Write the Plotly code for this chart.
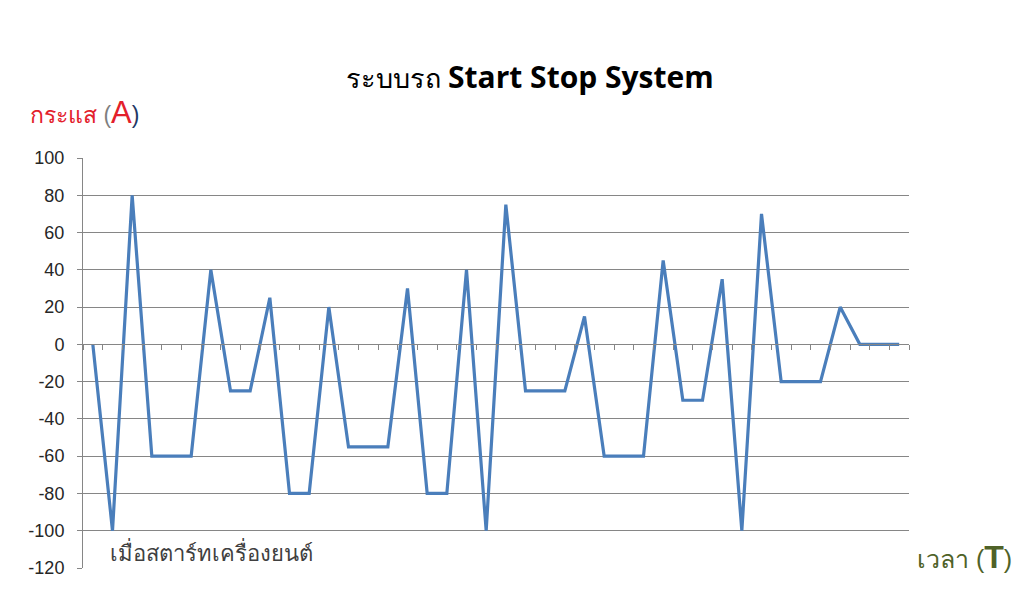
import plotly.graph_objects as go

# ค่ากระแสที่อ่านจากกราฟ (แอมแปร์) ตามลำดับเวลา
time_steps = list(range(42))
current_a = [0, -100, 80, -60, -60, -60, 40, -25, -25, 25,
             -80, -80, 20, -55, -55, -55, 30, -80, -80, 40,
             -100, 75, -25, -25, -25, 15, -60, -60, -60, 45,
             -30, -30, 35, -100, 70, -20, -20, -20, 20, 0,
             0, 0]
y_ticks = [-120, -100, -80, -60, -40, -20, 0, 20, 40, 60, 80, 100]
y_tick_labels = ["-120", "-100", "-80", "-60", "-40", "-20",
                 "0", "20", "40", "60", "80", "100"]

y_min, y_max = y_ticks[0], y_ticks[-1]

fig = go.Figure()
fig.add_trace(go.Scatter(
    x=time_steps,
    y=current_a,
    mode="lines",
    line=dict(color="#4a7ebb", width=3.2),
    hovertemplate="%{y} A<extra></extra>",
))

fig.update_layout(
    width=1024, height=601,
    margin=dict(l=75, r=123, t=150, b=41),
    paper_bgcolor="white",
    plot_bgcolor="white",
    showlegend=False,
    font=dict(family="Liberation Sans, Noto Sans", color="#333333"),
    xaxis=dict(
        range=[-0.5, len(time_steps) - 0.5],
        tick0=-0.5, dtick=1,
        anchor="free",
        # แกนนอนตัดที่ศูนย์ เหมือนกราฟ Excel
        position=(0 - y_min) / (y_max - y_min),
        ticks="outside", ticklen=5, tickcolor="#868686", tickwidth=1,
        showticklabels=False, showgrid=False, zeroline=False,
        showline=True, linecolor="#868686", linewidth=1,
    ),
    yaxis=dict(
        range=[y_min, y_max],
        tickvals=y_ticks,
        ticktext=y_tick_labels,
        ticks="outside", ticklen=5, tickcolor="#868686",
        ticklabelstandoff=9,
        showline=True, linecolor="#868686", linewidth=1,
        showgrid=True, gridcolor="#868686", gridwidth=1,
        zeroline=False,
        tickfont=dict(size=18, color="#262626"),
    ),
    annotations=[
        dict(text="ระบบรถ <b><span style='font-size:30px'>Start Stop System</span></b>",
             xref="paper", yref="paper", x=0.541, y=1.2,
             xanchor="center", yanchor="middle", showarrow=False,
             font=dict(size=27, color="#000000", family="Open Sans, Noto Sans")),
        dict(text="กระแส <span style='color:#7f7f7f'>(</span>"
                  "<span style='font-size:31px'>A</span>"
                  "<span style='color:#1f3864'>)</span>",
             xref="paper", yref="paper", x=-0.067, y=1.11,
             xanchor="left", yanchor="middle", showarrow=False,
             font=dict(size=23, color="#e3202b")),
        dict(text="เมื่อสตาร์ทเครื่องยนต์",
             xref="paper", yref="paper", x=0.03, y=0.039,
             xanchor="left", yanchor="middle", showarrow=False,
             font=dict(size=22, color="#404040")),
        dict(text="เวลา (<b><span style='font-size:32px'>T</span></b>)",
             xref="paper", yref="paper", x=1.007, y=0.027,
             xanchor="left", yanchor="middle", showarrow=False,
             font=dict(size=25, color="#4f6228")),
    ],
)

fig.write_html("out.html")
